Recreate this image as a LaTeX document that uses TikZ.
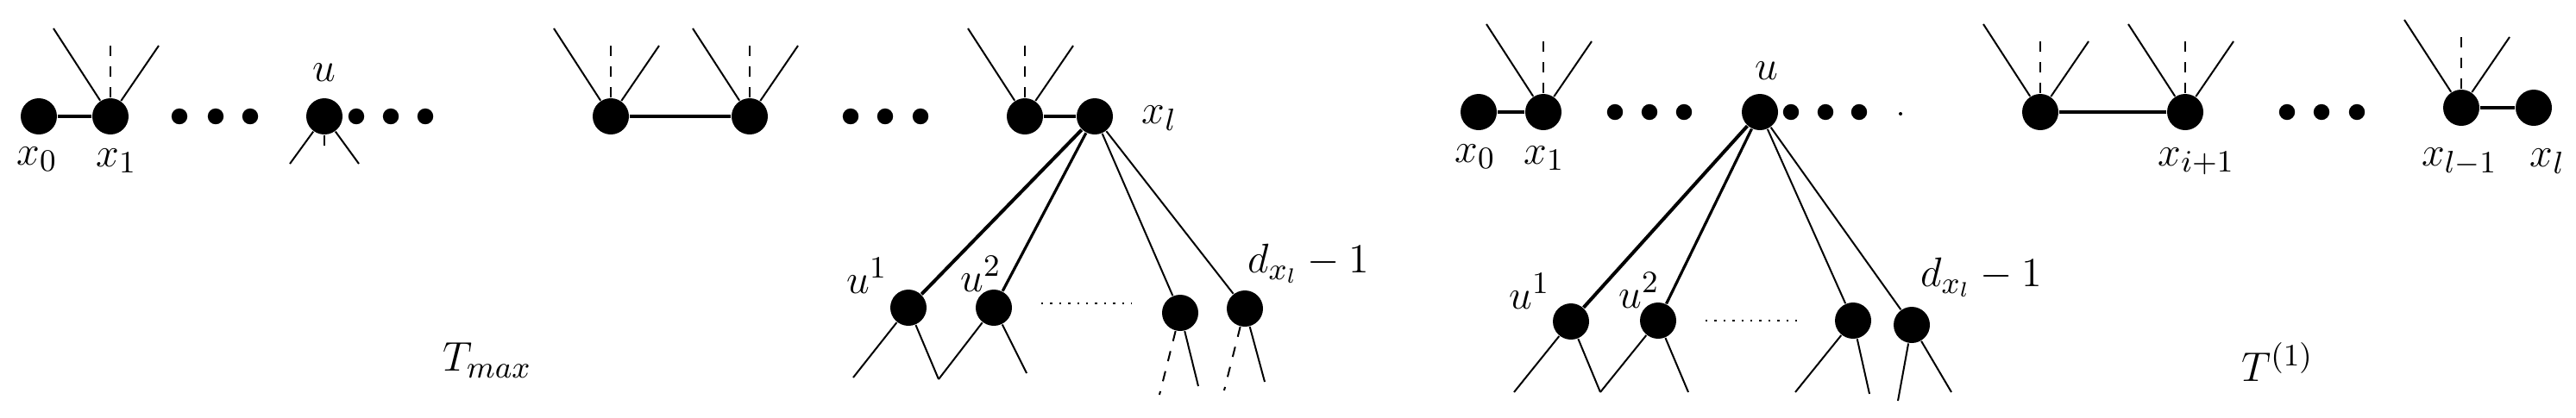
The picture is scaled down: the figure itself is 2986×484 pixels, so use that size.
\documentclass[tikz,border=0pt]{standalone}
\begin{document}
\begin{tikzpicture}[x=0.25pt,y=-0.25pt,
  vtx/.style={circle,fill=black,inner sep=0pt,minimum size=10.5pt},
  dt/.style={circle,fill=black,inner sep=0pt,minimum size=4.6pt},
  lab/.style={font=\fontsize{13}{15}\selectfont},
  edge/.style={line width=1pt},
  fan/.style={line width=0.5pt},
  fdash/.style={line width=0.5pt,dashed}]
\useasboundingbox (0,0) rectangle (2986,484);
% ---------- left panel ----------
\node[vtx] (a0) at (45,135) {};
\node[vtx] (a1) at (128,135) {};
\foreach \x [count=\i] in {208,250,290} \node[dt] (ad\i) at (\x,135) {};
\node[vtx] (au) at (376,135) {};
\foreach \x [count=\i] in {413,453,493} \node[dt] (ae\i) at (\x,135) {};
\node[vtx] (a2) at (708,135) {};
\node[vtx] (a3) at (869,135) {};
\foreach \x [count=\i] in {986,1026,1067} \node[dt] (af\i) at (\x,135) {};
\node[vtx] (a4) at (1188,135) {};
\node[vtx] (al) at (1269,135) {};
\draw[edge] (a0) -- (a1); \draw[edge] (a2) -- (a3); \draw[edge] (a4) -- (al);
\foreach \n/\x in {a1/128,a2/708,a3/869,a4/1188}{
  \coordinate (\n L) at (\x-66,33); \coordinate (\n R) at (\x+56,53); \coordinate (\n D) at (\x,46);
  \draw[fan] (\n) -- (\n L); \draw[fan] (\n) -- (\n R); \draw[fdash] (\n) -- (\n D);}
\coordinate (auL) at (336,190); \coordinate (auR) at (416,190); \coordinate (auD) at (376,176);
\draw[fan] (au) -- (auL); \draw[fan] (au) -- (auR); \draw[fdash] (au) -- (auD);
\node[lab] at (43,185) {$x_0$};
\node[lab] at (135,187) {$x_1$};
\node[lab] at (376,84) {$u$};
\node[lab] at (1344,137) {$x_l$};
\node[vtx] (ac1) at (1053,357) {};
\node[vtx] (ac2) at (1152,357) {};
\node[vtx] (ac3) at (1368,363) {};
\node[vtx] (ac4) at (1443,358) {};
\draw[edge] (al) -- (ac1); \draw[line width=0.8pt] (al) -- (ac2);
\draw[fan] (al) -- (ac3); \draw[fan] (al) -- (ac4);
\draw[line width=0.6pt,dotted] (ac2) ++(55,-5) -- ++(105,0);
\coordinate (ab1) at (989,438); \coordinate (ab2) at (1088,440); \coordinate (ab3) at (1190,433);
\coordinate (ab4) at (1389,448); \coordinate (ab5) at (1344,458);
\coordinate (ab6) at (1466,443); \coordinate (ab7) at (1419,453);
\draw[fan] (ac1) -- (ab1); \draw[fan] (ac1) -- (ab2);
\draw[fan] (ac2) -- (ab2); \draw[fan] (ac2) -- (ab3);
\draw[fan] (ac3) -- (ab4); \draw[fdash] (ac3) -- (ab5);
\draw[fan] (ac4) -- (ab6); \draw[fdash] (ac4) -- (ab7);
\node[lab] at (1005,320) {$u^1$};
\node[lab] at (1137,318) {$u^2$};
\node[lab,anchor=west] at (1432,306) {$d_{x_l}-1$};
\node[lab] at (565,418) {$T_{max}$};
% ---------- right panel ----------
\node[vtx] (b0) at (1714,130) {};
\node[vtx] (b1) at (1789,130) {};
\foreach \x [count=\i] in {1872,1912,1952} \node[dt] (bd\i) at (\x,130) {};
\node[vtx] (bu) at (2040,130) {};
\foreach \x [count=\i] in {2076,2116,2155} \node[dt] (be\i) at (\x,130) {};
\node[circle,fill=black,inner sep=0pt,minimum size=1pt] (bdot) at (2203,132) {};
\node[vtx] (b2) at (2365,130) {};
\node[vtx] (b3) at (2533,130) {};
\foreach \x [count=\i] in {2651,2691,2732} \node[dt] (bf\i) at (\x,130) {};
\node[vtx] (b4) at (2853,125) {};
\node[vtx] (bl) at (2937,125) {};
\draw[edge] (b0) -- (b1); \draw[edge] (b2) -- (b3); \draw[edge] (b4) -- (bl);
\foreach \n/\x/\y in {b1/1789/130,b2/2365/130,b3/2533/130,b4/2853/125}{
  \coordinate (\n L) at (\x-66,\y-102); \coordinate (\n R) at (\x+56,\y-82); \coordinate (\n D) at (\x,\y-88);
  \draw[fan] (\n) -- (\n L); \draw[fan] (\n) -- (\n R); \draw[fdash] (\n) -- (\n D);}
\node[lab] at (1710,182) {$x_0$};
\node[lab] at (1790,184) {$x_1$};
\node[lab] at (2048,82) {$u$};
\node[lab] at (2546,187) {$x_{i+1}$};
\node[lab] at (2851,188) {$x_{l-1}$};
\node[lab] at (2953,187) {$x_l$};
\node[vtx] (bc1) at (1821,373) {};
\node[vtx] (bc2) at (1922,372) {};
\node[vtx] (bc3) at (2148,372) {};
\node[vtx] (bc4) at (2216,377) {};
\draw[edge] (bu) -- (bc1); \draw[line width=0.8pt] (bu) -- (bc2);
\draw[fan] (bu) -- (bc3); \draw[fan] (bu) -- (bc4);
\draw[line width=0.6pt,dotted] (bc2) ++(55,0) -- ++(110,0);
\coordinate (bb1) at (1755,455); \coordinate (bb2) at (1855,455); \coordinate (bb3) at (1957,455);
\coordinate (bb4) at (2081,455); \coordinate (bb5) at (2167,457);
\coordinate (bb6) at (2200,465); \coordinate (bb7) at (2262,455);
\draw[fan] (bc1) -- (bb1); \draw[fan] (bc1) -- (bb2);
\draw[fan] (bc2) -- (bb2); \draw[fan] (bc2) -- (bb3);
\draw[fan] (bc3) -- (bb4); \draw[fan] (bc3) -- (bb5);
\draw[fan] (bc4) -- (bb6); \draw[fan] (bc4) -- (bb7);
\node[lab] at (1773,338) {$u^1$};
\node[lab] at (1900,337) {$u^2$};
\node[lab,anchor=west] at (2212,322) {$d_{x_l}-1$};
\node[lab] at (2640,420) {$T^{(1)}$};
\end{tikzpicture}
\end{document}
